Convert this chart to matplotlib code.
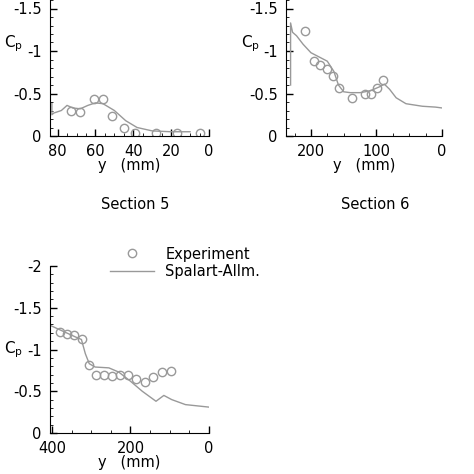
import matplotlib
matplotlib.use("Agg")
import matplotlib.pyplot as plt
from matplotlib.ticker import AutoMinorLocator

s5_exp_y = [73, 68, 61, 56, 51, 45, 39, 28, 17, 5]
s5_exp_cp = [-0.29, -0.28, -0.43, -0.43, -0.23, -0.10, -0.04, -0.03, -0.03, -0.04]
s5_sa_y = [83, 83, 82, 78, 75, 72, 68, 64, 60, 56, 50, 44, 38, 30, 20, 10]
s5_sa_cp = [-0.38, -0.25, -0.27, -0.30, -0.36, -0.33, -0.32, -0.36, -0.39, -0.38, -0.30, -0.18, -0.10, -0.06, -0.05, -0.05]

s6_exp_y = [209, 196, 186, 175, 166, 157, 137, 118, 108, 99, 90]
s6_exp_cp = [-1.23, -0.88, -0.83, -0.79, -0.71, -0.56, -0.45, -0.49, -0.49, -0.56, -0.66]
s6_sa_y = [231, 231, 228, 222, 212, 200, 185, 175, 165, 158, 150, 140, 125, 110, 95, 88, 80, 70, 55, 30, 10, 0]
s6_sa_cp = [-0.60, -1.33, -1.22, -1.18, -1.08, -0.98, -0.92, -0.88, -0.76, -0.60, -0.52, -0.51, -0.51, -0.53, -0.58, -0.61, -0.55, -0.45, -0.38, -0.35, -0.34, -0.33]

s7_exp_y = [379, 362, 343, 324, 305, 287, 268, 248, 227, 206, 185, 163, 142, 119, 96]
s7_exp_cp = [-1.21, -1.19, -1.17, -1.12, -0.81, -0.70, -0.70, -0.68, -0.69, -0.69, -0.65, -0.61, -0.67, -0.73, -0.74]
s7_sa_y = [405, 340, 325, 315, 305, 290, 255, 230, 200, 170, 135, 115, 95, 60, 20, 0]
s7_sa_cp = [-1.29, -1.15, -1.12, -0.95, -0.83, -0.79, -0.78, -0.73, -0.62, -0.50, -0.38, -0.45, -0.40, -0.34, -0.32, -0.31]

gray = "#999999"
W = 474
fig = plt.figure(figsize=(4.74, 4.74), dpi=100)

def mk(rect, ey, ec, sy, sc, xlim, ylim, xt, yt, cpy):
    ax = fig.add_axes(rect)
    ax.plot(sy, sc, color=gray, lw=1.0, label="Spalart-Allm.")
    ax.plot(ey, ec, 'o', mfc='none', mec=gray, ms=6, mew=1.0, label="Experiment")
    ax.set_xlim(*xlim); ax.set_ylim(*ylim)
    ax.set_xticks(xt); ax.set_yticks(yt)
    ax.set_yticklabels([("%g" % v) for v in yt])
    ax.xaxis.set_minor_locator(AutoMinorLocator(4))
    ax.yaxis.set_minor_locator(AutoMinorLocator(5))
    for sp in ["top", "right"]:
        ax.spines[sp].set_visible(False)
    ax.tick_params(direction='in', labelsize=10.5, length=5, width=1, pad=6)
    ax.tick_params(which='minor', direction='in', length=2.5)
    ax.set_xlabel("y   (mm)", fontsize=10.5, labelpad=-1)
    ax.text(-0.23, cpy, r"C$_{\rm p}$", transform=ax.transAxes, fontsize=11, ha='center', va='center')
    return ax

mk([50/W, 338/W, 159/W, 136/W], s5_exp_y, s5_exp_cp, s5_sa_y, s5_sa_cp,
   (84, 0), (0, -1.6), [80, 60, 40, 20, 0], [0, -0.5, -1, -1.5], 0.68)
mk([286/W, 338/W, 156/W, 136/W], s6_exp_y, s6_exp_cp, s6_sa_y, s6_sa_cp,
   (238, 0), (0, -1.6), [200, 100, 0], [0, -0.5, -1, -1.5], 0.68)
ax3 = mk([50/W, 41/W, 159/W, 167/W], s7_exp_y, s7_exp_cp, s7_sa_y, s7_sa_cp,
   (405, 0), (0, -2), [400, 200, 0], [0, -0.5, -1, -1.5, -2], 0.5)

fig.text(135/W, 1 - 205/W, "Section 5", fontsize=10.5, ha='center', va='center')
fig.text(375/W, 1 - 205/W, "Section 6", fontsize=10.5, ha='center', va='center')

h, l = ax3.get_legend_handles_labels()
fig.legend(h[::-1], l[::-1], loc='center', bbox_to_anchor=(185/W, 1 - 263/W),
           frameon=False, fontsize=10.5, handlelength=3, labelspacing=0.2)

fig.savefig("out.png", dpi=100)
